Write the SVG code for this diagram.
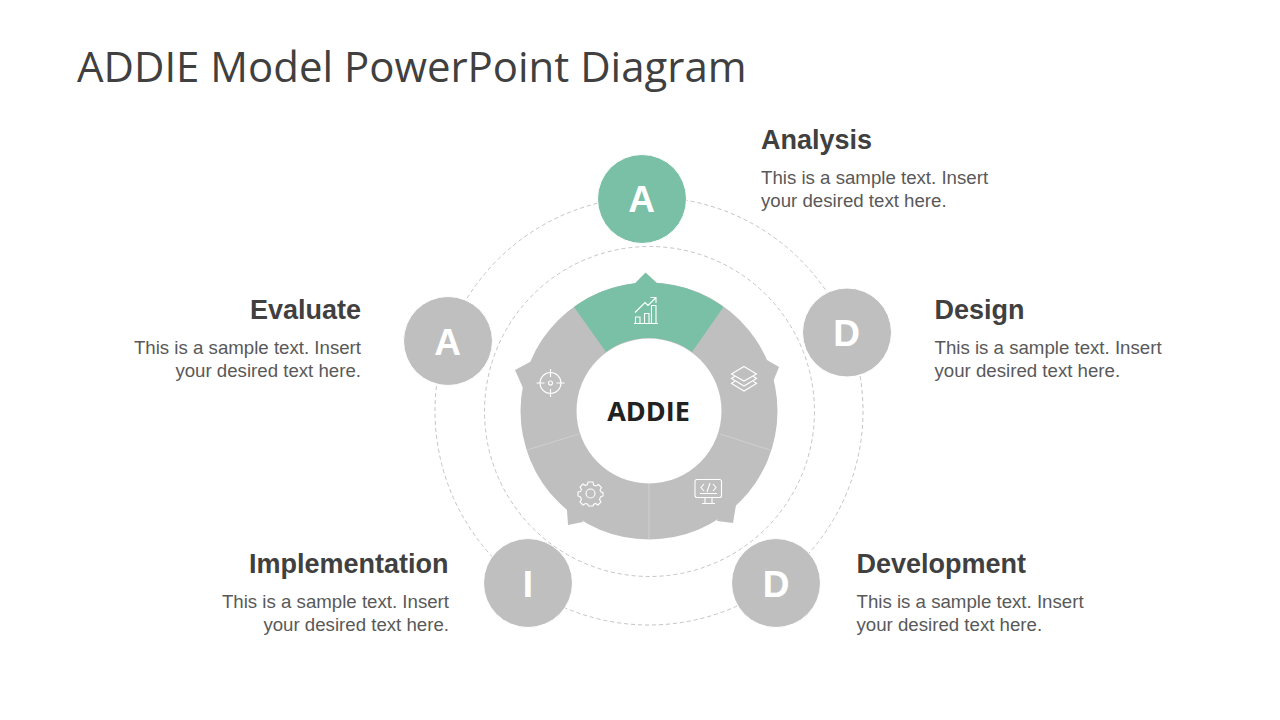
<svg xmlns="http://www.w3.org/2000/svg" width="1280" height="720" viewBox="0 0 1280 720">
<style>
.t{font-family:"Open Sans",sans-serif;font-size:41.95px;fill:#404040}
.h{font-family:"Liberation Sans",Arial,sans-serif;font-size:27px;font-weight:700;fill:#404040}
.b{font-family:"Liberation Sans",Arial,sans-serif;font-size:18.67px;fill:#595959}
.r{text-anchor:end}
.l{font-family:"Liberation Sans",Arial,sans-serif;font-size:37px;font-weight:700;fill:#fff;text-anchor:middle}
.dash{fill:none;stroke:#c4c4c4;stroke-width:1;stroke-dasharray:4 3}
.sep{stroke:#cfcfcf;stroke-width:1;fill:none}
.ic{fill:none;stroke:#fff;stroke-width:1.1}
.g{fill:#bfbfbf}
.m{fill:#7ac0a6}
.nd{stroke:#fff;stroke-width:1}
</style>
<rect width="1280" height="720" fill="#fff"/>
<text class="t" x="77" y="82">ADDIE Model PowerPoint Diagram</text>
<g id="connectors">
<circle class="dash" cx="649" cy="411" r="214"/>
<circle class="dash" cx="649.5" cy="411.5" r="165"/>
</g>
<g id="hub">
<circle class="g" cx="649" cy="411" r="128.5"/>
<path class="g" d="M767 360L779 367L773 382L760 370Z"/>
<path class="g" d="M530 362L515 370L523 388L540 370Z"/>
<path class="g" d="M736 505L733 523L717 521L725 500Z"/>
<path class="g" d="M567 510L568 525L583 522L575 500Z"/>
<path class="m" d="M635 283.3L645.500 272.500L657 283L657 283A128.5 128.5 0 0 1 723.500 307L692 352A73 73 0 0 0 606 352L574 307A128.5 128.5 0 0 1 635 283.3Z"/>
<path class="sep" d="M720 434L770 450M579 434L527 450M649 484V539"/>
<circle cx="649" cy="411" r="72.5" fill="#fff"/>
<text x="648.5" y="421" font-family="'Open Sans',sans-serif" font-size="27" font-weight="700" fill="#222" text-anchor="middle">ADDIE</text>
</g>
<g id="icon-chart" class="ic">
<path d="M634 323.500H658M635.500 323V317H640V323M644.500 323V313.500H649V323M651.500 323V305.500H656V323M635 312.500L645 302.500L648 305.500L655.500 298M650.500 297.500H656V303"/>
</g>
<g id="icon-layers" class="ic">
<path d="M744 366.500L756.500 374L744 381L731.500 374ZM735 376L731.500 378.500L744 386L756.500 378.500L753 376M735 381L731.500 383.500L744 391L756.500 383.500L753 381"/>
</g>
<g id="icon-screen" class="ic">
<path d="M697 479.500H719.500Q721.500 479.500 721.500 481.500V495.500Q721.500 497.500 719.500 497.500H697Q695 497.500 695 495.500V481.500Q695 479.500 697 479.500ZM700 493.500H717M705 497.500V503M712 497.500V503M702 503.500H715M704 484L701 487.500L704 491M713 484L716 487.500L713 491M710 483L707 492"/>
</g>
<g id="icon-gear" class="ic">
<circle cx="590.500" cy="493.500" r="4.500"/>
<path d="M588 482H593L593.500 485L596 486L598.500 484.500L601.500 487.500L600 490L601 492L603 492.500V496L600.500 497L599.500 499.500L601 502L598 505L595.500 503.500L593.500 504.500L593 506H588.500L587.500 504L585.500 503.500L583 505L580 502L581.500 499.500L580.500 497L578 496V492L580.500 491.500L581.500 489.500L580 487L583 484L585.500 485.500L587.500 484.500Z"/>
</g>
<g id="icon-target" class="ic">
<circle cx="550.500" cy="383" r="10.500"/>
<circle cx="550.500" cy="383" r="2"/>
<path d="M550.500 369V377M550.500 389V397M536.500 383H544.500M556.500 383H564.500"/>
</g>
<g id="node-analysis">
<circle class="m nd" cx="642" cy="199" r="44.5"/>
<text class="l" x="641.500" y="212">A</text>
<text class="h" x="761" y="149">Analysis</text>
<text class="b" x="761" y="184">This is a sample text. Insert</text>
<text class="b" x="761" y="207">your desired text here.</text>
</g>
<g id="node-design">
<circle class="g nd" cx="847" cy="332.500" r="44.5"/>
<text class="l" x="846.500" y="346">D</text>
<text class="h" x="934.500" y="319">Design</text>
<text class="b" x="934.500" y="354">This is a sample text. Insert</text>
<text class="b" x="934.500" y="377">your desired text here.</text>
</g>
<g id="node-development">
<circle class="g nd" cx="776" cy="583" r="44.5"/>
<text class="l" x="776" y="596.500">D</text>
<text class="h" x="856.500" y="573">Development</text>
<text class="b" x="856.500" y="608">This is a sample text. Insert</text>
<text class="b" x="856.500" y="631">your desired text here.</text>
</g>
<g id="node-implementation">
<circle class="g nd" cx="528" cy="583" r="44.5"/>
<text class="l" x="528" y="596.500">I</text>
<text class="h r" x="448.500" y="573">Implementation</text>
<text class="b r" x="449" y="608">This is a sample text. Insert</text>
<text class="b r" x="449" y="631">your desired text here.</text>
</g>
<g id="node-evaluate">
<circle class="g nd" cx="448" cy="341" r="44.5"/>
<text class="l" x="447.500" y="354.500">A</text>
<text class="h r" x="361" y="319">Evaluate</text>
<text class="b r" x="361" y="354">This is a sample text. Insert</text>
<text class="b r" x="361" y="377">your desired text here.</text>
</g>
</svg>
